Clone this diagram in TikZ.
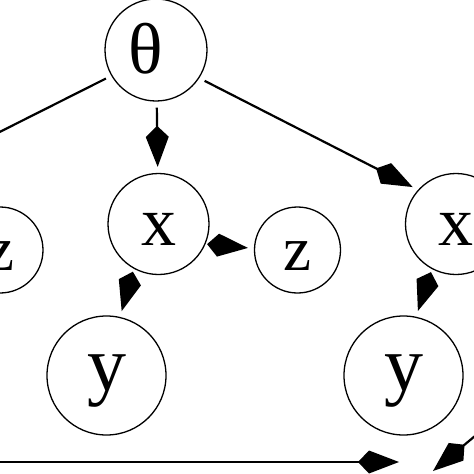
\documentclass[tikz,border=0pt]{standalone}
\usepackage{fontspec}
\setmainfont{Liberation Serif}
\usetikzlibrary{arrows.meta}
\begin{document}
\begin{tikzpicture}[x=1pt,y=-1pt,
  gnode/.style={circle,draw,line width=1.3pt,inner sep=0pt,text depth=0pt},
  xnode/.style={gnode,minimum size=101pt,font=\fontsize{70}{84}\selectfont,text height=42pt},
  znode/.style={gnode,minimum size=86pt,font=\fontsize{63}{76}\selectfont,text height=41pt},
  ynode/.style={gnode,minimum size=119pt,font=\fontsize{78}{94}\selectfont,text height=29pt},
  tnode/.style={gnode,minimum size=102pt,font=\fontsize{72}{86}\selectfont,text height=46pt},
  link/.style={line width=2.2pt,shorten <=6pt,shorten >=6pt},
  kitetip/.style={-{Kite[length=41pt,width=23pt,inset=11pt,line width=0pt]}},
  arr/.style={link,kitetip},
  freearr/.style={line width=2.2pt,kitetip}
]
\useasboundingbox (0,0) rectangle (474,474);
\clip (0,0) rectangle (474,474);

\node[tnode] (theta) at (156,50) {θ\rule{20pt}{0pt}};
\node[xnode] (xm) at (158.5,224) {x};
\node[znode] (zm) at (297.5,250) {z};
\node[znode] (zl) at (0,250) {z};
\node[ynode] (yl) at (106.5,375.5) {y};
\node[xnode] (xr) at (456,224) {x};
\node[ynode] (yr) at (403.5,375.5) {y};

\coordinate (lft) at (-60,162);
\coordinate (botL) at (-10,462);
\coordinate (botT) at (399,462);
\coordinate (drS) at (499,416);
\coordinate (drT) at (433,471);

\draw[line width=2.2pt,shorten <=6pt] (theta.210) -- (lft);
\draw[arr] (theta) -- (xm);
\draw[arr] (theta.-33) -- (xr.138);
\draw[arr] (xm.-23) -- (zm.178);
\draw[arr] (xm.-119) -- (yl.77);
\draw[arr] (xr.-118) -- (yr.78);
\draw[freearr] (botL) -- (botT);
\draw[freearr] (drS) -- (drT);
\end{tikzpicture}
\end{document}
